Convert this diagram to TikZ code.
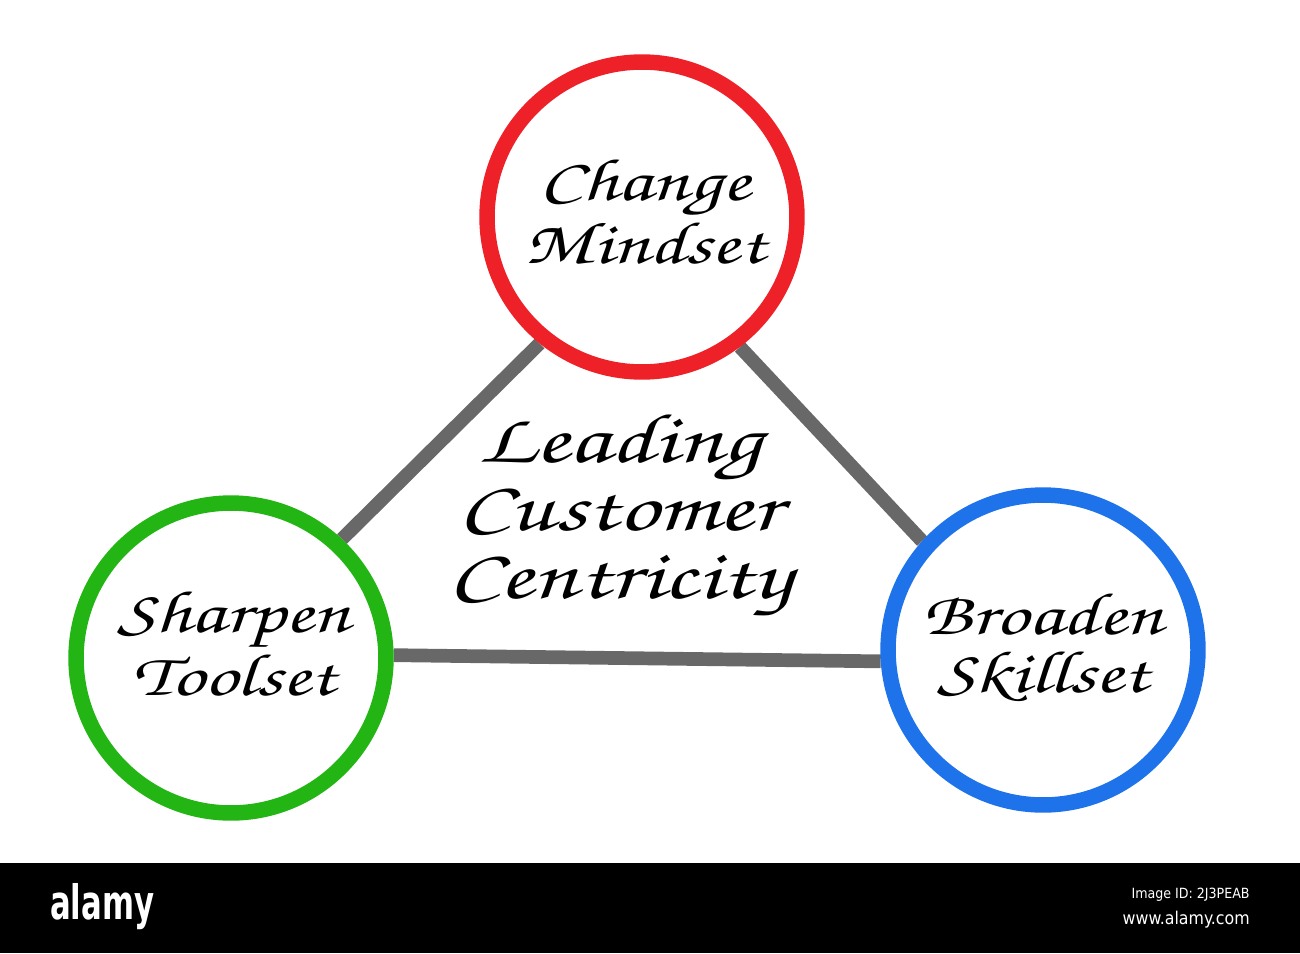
\documentclass[tikz,border=0pt]{standalone}
\usepackage[T1]{fontenc}
\usepackage{fontspec}
\usepackage{pdfrender}
\usepackage{tikz}
\usetikzlibrary{backgrounds}
\newfontfamily\barfont{DejaVu Sans Condensed}
\newcommand\handfont{\fontencoding{T1}\fontfamily{pzc}\selectfont
  \pdfrender{TextRenderingMode=FillStroke, LineWidth=0.95pt}}
\definecolor{mindred}{HTML}{EE2128}
\definecolor{toolgreen}{HTML}{22B514}
\definecolor{skillblue}{HTML}{1E73EA}
\definecolor{linkgray}{HTML}{686868}

\begin{document}
\begin{tikzpicture}[x=0.02cm, y=-0.02cm,
    ring/.style={circle, draw, fill=white, line width=8.8pt, minimum size=6.2cm, inner sep=0pt},
    label/.style={align=center, xscale=1.36, font=\handfont\fontsize{34}{33}\selectfont},
    hub/.style={align=center, xscale=1.4, font=\handfont\fontsize{40}{38.6}\selectfont},
    link/.style={draw=linkgray, line width=7.8pt},
    bartext/.style={text=white, inner sep=0pt}]
  \useasboundingbox (0,0) rectangle (1300,953);

  % the three circles
  \node[ring, draw=mindred] (change) at (642,217) {};
  \node[ring, draw=toolgreen] (sharpen) at (231,658) {};
  \node[ring, draw=skillblue] (broaden) at (1043,650) {};

  \node[label] (changetext) at (645,211) {Change\\Mindset};
  \node[label] (sharpentext) at (234,643) {Sharpen\\Toolset};
  \node[label] (broadentext) at (1043,648) {Broaden\\Skillset};

  \node[hub] (leading) at (620,516) {Leading\\Customer\\Centricity};

  % links behind the circles
  \begin{scope}[on background layer]
    \draw[link] (change.231) -- (sharpen.47);
    \draw[link] (change.-53) -- (broaden.138);
    \draw[link] (sharpen.1) -- (broaden.184);
  \end{scope}

  % stock banner
  \fill[black] (0,863) rectangle (1300,953);
  \node[bartext, anchor=west, xscale=0.72, font=\barfont\bfseries\fontsize{27}{27}\selectfont] (alamy) at (50,907) {alamy};
  \node[bartext, anchor=east, font=\barfont\fontsize{8}{8}\selectfont] (imageid) at (1250,895) {Image ID: 2J3PEAB};
  \node[bartext, anchor=east, font=\barfont\fontsize{10}{10}\selectfont] (www) at (1250,920) {www.alamy.com};
\end{tikzpicture}
\end{document}
